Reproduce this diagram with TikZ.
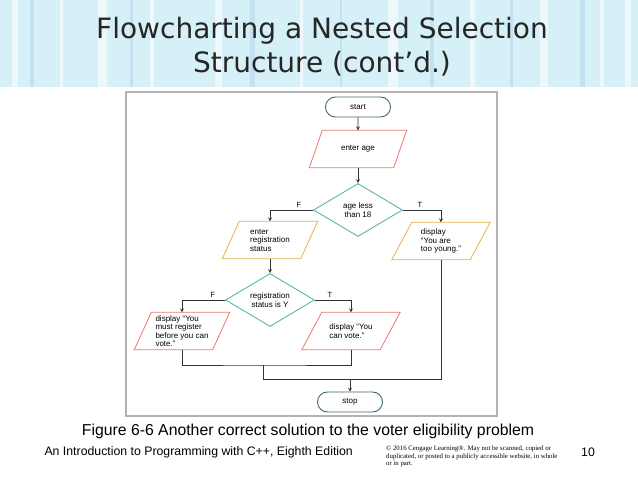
\documentclass[tikz,border=0pt]{standalone}
\usepackage{fontspec}
\setmainfont{Liberation Sans}
\newfontfamily\titlefont{DejaVu Sans}
\newfontfamily\notefont{Liberation Serif}
\usepackage{tikz}
\usetikzlibrary{shapes.geometric,shapes.misc,arrows}

\definecolor{bandblue}{RGB}{214,240,247}
\definecolor{termline}{RGB}{62,104,118}
\definecolor{testline}{RGB}{92,182,170}
\definecolor{ioline}{RGB}{232,122,106}
\definecolor{inline}{RGB}{234,176,74}
\definecolor{wire}{RGB}{50,50,50}

\tikzset{
  term/.style={rounded rectangle,draw=termline,line width=0.9pt,minimum width=65pt,minimum height=20pt,inner sep=0pt,font=\fontsize{8}{9}\selectfont},
  test/.style={diamond,draw=testline,line width=0.9pt,aspect=1.68,minimum width=89pt,minimum height=53pt,inner sep=0pt,align=center,font=\fontsize{8}{8.4}\selectfont},
  io/.style={rectangle,minimum width=78pt,minimum height=37pt,inner sep=1pt,align=left,font=\fontsize{8}{8.5}\selectfont},
  arr/.style={draw=wire,line width=0.7pt,-stealth},
  wireline/.style={draw=wire,line width=0.7pt},
  flag/.style={font=\fontsize{7.5}{8}\selectfont,inner sep=0pt}
}

\begin{document}
\begin{tikzpicture}[x=1pt,y=-1pt]
\useasboundingbox (0,0) rectangle (638,478);
\fill[white] (0,0) rectangle (638,478);
% header band
\fill[bandblue] (0,0) rectangle (638,87);
\foreach \x/\w in {12/6,60/3,98/9,150/4,215/7,300/3,388/10,470/5,540/8,600/4,625/6}
  {
  \fill[white,opacity=0.55] (\x,0) rectangle (\x+\w,87);
  }
\foreach \x/\w in {30/4,130/3,250/5,340/2,430/4,510/3,580/5}
  {
  \fill[cyan!40!blue,opacity=0.10] (\x,0) rectangle (\x+\w,87);
  }
\node[font=\titlefont\fontsize{28}{34}\selectfont,align=center,text=black!85] (title) at (322,47)
  {Flowcharting a Nested Selection\\Structure (cont’d.)};

% figure frame
\draw[gray!60,line width=1.5pt] (126,92) rectangle (497,416);

% flowchart
\node[term] (start) at (358,107) {start};
\node[io,minimum width=84pt,align=center] (enterAge) at (358,149) {enter age};
\node[test] (ageTest) at (358,210) {age less\\than 18};
\node[io] (enterReg) at (270,240) {enter\\registration\\status};
\node[io] (tooYoung) at (441,241) {display\\``You are\\too young.''};
\node[test] (regTest) at (270,300) {registration\\status is Y};
\node[io] (mustReg) at (182,331) {display ``You\\must register\\before you can\\vote.''};
\node[io] (canVote) at (351,331) {display ``You\\can vote.''};
\node[term] (stop) at (350,402) {stop};

% slanted outlines of the input/output boxes
\foreach \n/\c/\s in {enterAge/ioline/6.5,enterReg/inline/8.5,tooYoung/inline/10,mustReg/ioline/8.5,canVote/ioline/10}
  {
  \draw[\c,line width=0.8pt] ([xshift=-\s pt]\n.south west) -- ([xshift=\s pt]\n.north west)
    -- ([xshift=\s pt]\n.north east) -- ([xshift=-\s pt]\n.south east) -- cycle;
  }

\node[flag] (ageF) at (299,205) {F};
\node[flag] (ageT) at (420,205) {T};
\node[flag] (regF) at (213,295) {F};
\node[flag] (regT) at (330,295) {T};

\coordinate (mergeL) at (263,365);
\coordinate (mergeR) at (263,379);
\coordinate (intoStop) at (350,379);

\draw[arr] (start) -- (enterAge);
\draw[arr] (enterAge) -- (ageTest);
\draw[arr] (ageTest.west) -| (enterReg.north);
\draw[arr] (ageTest.east) -| (tooYoung.north);
\draw[arr] (enterReg) -- (regTest);
\draw[arr] (regTest.west) -| (mustReg.north);
\draw[arr] (regTest.east) -| (canVote.north);
\draw[wireline] (mustReg.south) |- (mergeL) -| (canVote.south);
\draw[wireline] (mergeL) -- (mergeR);
\draw[wireline] (tooYoung.south) |- (mergeR);
\draw[arr] (intoStop) -- (stop);

% caption and footer
\node[font=\fontsize{15.8}{18}\selectfont] (caption) at (308,431)
  {Figure 6-6 Another correct solution to the voter eligibility problem};
\node[font=\fontsize{12.3}{14}\selectfont,anchor=west] (book) at (41,452)
  {An Introduction to Programming with C++, Eighth Edition};
\node[font=\notefont\fontsize{6.8}{7.5}\selectfont,align=left,anchor=north west,inner sep=0pt] (rights) at (386,446)
  {\textcopyright{} 2016 Cengage Learning\textregistered. May not be scanned, copied or\\
   duplicated, or posted to a publicly accessible website, in whole\\
   or in part.};
\node[font=\fontsize{12.3}{14}\selectfont] (page) at (588,452) {10};
\end{tikzpicture}
\end{document}
